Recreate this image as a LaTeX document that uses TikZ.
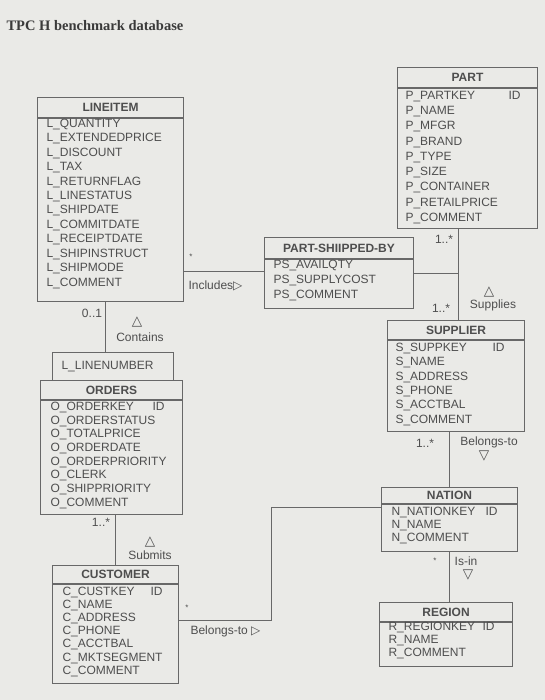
\documentclass[tikz,border=0pt]{standalone}
\usepackage{fontspec}
\setmainfont{Liberation Sans}
\newfontfamily\tpcserif{Liberation Serif}
\newfontfamily\tpcsym{DejaVu Sans}
\definecolor{bgc}{RGB}{234,234,231}
\definecolor{inkc}{RGB}{78,78,78}
\definecolor{headc}{RGB}{58,58,58}
\definecolor{linec}{RGB}{104,104,104}
\begin{document}
\begin{tikzpicture}[x=1pt, y=-1pt, line width=1pt,
  every node/.style={text=inkc, font=\fontsize{12}{14}\selectfont},
  head/.style={draw=linec, anchor=north west, inner sep=0pt, text height=8.6pt, text depth=0pt,
    font=\fontsize{12}{14}\selectfont\bfseries},
  body/.style={draw=linec, anchor=north west, inner sep=0pt},
  row/.style={anchor=west, inner sep=0pt, text height=8.6pt, text depth=0pt},
  lbl/.style={inner sep=0pt, text height=8.6pt, text depth=0pt},
  star/.style={inner sep=0pt, font=\fontsize{8}{9}\selectfont},
  tri/.style={inner sep=0pt, font=\tpcsym\fontsize{13.5}{14}\selectfont},
  link/.style={draw=linec}]
\fill[bgc] (0,0) rectangle (545,700);
\node[anchor=base west, inner sep=0pt, text=headc, font=\tpcserif\bfseries\fontsize{14.5}{17}\selectfont] (title) at (6,31) {TPC H benchmark database};

% LINEITEM
\node[head, minimum width=146pt, minimum height=20pt] (lineitem) at (37,97) {LINEITEM};
\node[body, minimum width=146pt, minimum height=183pt] (lineitem_a) at (lineitem.south west) {};
\foreach \attr [count=\i from 0] in {L\_QUANTITY, L\_EXTENDEDPRICE, L\_DISCOUNT, L\_TAX, L\_RETURNFLAG, L\_LINESTATUS, L\_SHIPDATE, L\_COMMITDATE, L\_RECEIPTDATE, L\_SHIPINSTRUCT, L\_SHIPMODE, L\_COMMENT}
  \node[row] (lineitem_r\i) at (46,123+14.45*\i) {\attr};

% PART
\node[head, minimum width=140pt, minimum height=20pt] (part) at (397,67) {PART};
\node[body, minimum width=140pt, minimum height=140pt] (part_a) at (part.south west) {};
\foreach \attr [count=\i from 0] in {P\_PARTKEY, P\_NAME, P\_MFGR, P\_BRAND, P\_TYPE, P\_SIZE, P\_CONTAINER, P\_RETAILPRICE, P\_COMMENT}
  \node[row] (part_r\i) at (405,95+15.25*\i) {\attr};
\node[row] (part_id) at (508,95) {ID};

% PART-SHIIPPED-BY
\node[head, minimum width=149pt, minimum height=21pt] (ps) at (264,237) {PART-SHIIPPED-BY};
\node[body, minimum width=149pt, minimum height=49pt] (ps_a) at (ps.south west) {};
\foreach \attr [count=\i from 0] in {PS\_AVAILQTY, PS\_SUPPLYCOST, PS\_COMMENT}
  \node[row] (ps_r\i) at (273,264+15*\i) {\attr};

% SUPPLIER
\node[head, minimum width=137pt, minimum height=19pt] (supplier) at (387,320) {SUPPLIER};
\node[body, minimum width=137pt, minimum height=91pt] (supplier_a) at (supplier.south west) {};
\foreach \attr [count=\i from 0] in {S\_SUPPKEY, S\_NAME, S\_ADDRESS, S\_PHONE, S\_ACCTBAL, S\_COMMENT}
  \node[row] (supplier_r\i) at (395,347+14.4*\i) {\attr};
\node[row] (supplier_id) at (492,347) {ID};

% NATION
\node[head, minimum width=136pt, minimum height=16pt] (nation) at (381,487) {NATION};
\node[body, minimum width=136pt, minimum height=47pt] (nation_a) at (nation.south west) {};
\foreach \attr [count=\i from 0] in {N\_NATIONKEY, N\_NAME, N\_COMMENT}
  \node[row] (nation_r\i) at (391,511+13.3*\i) {\attr};
\node[row] (nation_id) at (485,511) {ID};

% REGION
\node[head, minimum width=133pt, minimum height=19pt] (region) at (379,602) {REGION};
\node[body, minimum width=133pt, minimum height=44pt] (region_a) at (region.south west) {};
\foreach \attr [count=\i from 0] in {R\_REGIONKEY, R\_NAME, R\_COMMENT}
  \node[row] (region_r\i) at (388,626+13.3*\i) {\attr};
\node[row] (region_id) at (482,626) {ID};

% L_LINENUMBER + ORDERS
\node[body, minimum width=121pt, minimum height=28pt] (linenum) at (52,352) {};
\node[row] (linenum_r) at (61,365) {L\_LINENUMBER};
\node[head, minimum width=142pt, minimum height=19pt] (orders) at (40,380) {ORDERS};
\node[body, minimum width=142pt, minimum height=114pt] (orders_a) at (orders.south west) {};
\foreach \attr [count=\i from 0] in {O\_ORDERKEY, O\_ORDERSTATUS, O\_TOTALPRICE, O\_ORDERDATE, O\_ORDERPRIORITY, O\_CLERK, O\_SHIPPRIORITY, O\_COMMENT}
  \node[row] (orders_r\i) at (50,406+13.7*\i) {\attr};
\node[row] (orders_id) at (152,406) {ID};

% CUSTOMER
\node[head, minimum width=126pt, minimum height=18pt] (customer) at (52,565) {CUSTOMER};
\node[body, minimum width=126pt, minimum height=99pt] (customer_a) at (customer.south west) {};
\foreach \attr [count=\i from 0] in {C\_CUSTKEY, C\_NAME, C\_ADDRESS, C\_PHONE, C\_ACCTBAL, C\_MKTSEGMENT, C\_COMMENT}
  \node[row] (customer_r\i) at (62,591+13.17*\i) {\attr};
\node[row] (customer_id) at (150,591) {ID};

% connectors
\draw[link] ([yshift=-12pt]ps_a.north west) -- ([yshift=-12pt]ps_a.north west -| lineitem_a.east);
\coordinate (supplies) at ([xshift=-9pt]part_a.south);
\draw[link] (supplies) -- (supplies |- supplier.north);
\draw[link] ([yshift=-14pt]ps_a.north east) -- ([yshift=-14pt]ps_a.north east -| supplies);
\coordinate (contains) at ([xshift=-5pt]lineitem_a.south);
\draw[link] (contains) -- (contains |- linenum.north);
\coordinate (submits) at ([xshift=4pt]orders_a.south);
\draw[link] (submits) -- (submits |- customer.north);
\draw[link] ([yshift=14pt]customer_a.east) -- ++(92,0) |- ([yshift=-3pt]nation_a.north west);
\draw[link] (nation.north) -- (nation.north |- supplier_a.south);
\draw[link] (nation_a.south) -- (nation_a.south |- region.north);

% labels
\node[star] (inc_star) at (191,257) {*};
\node[lbl, anchor=west] (includes) at (188,285) {Includes{\tpcsym▷}};
\node[lbl] (part_mult) at (444,239) {1..*};
\node[lbl] (sup_mult) at (441,308) {1..*};
\node[tri] (supplies_tri) at (489,292) {△};
\node[lbl] (supplies_lbl) at (493,304) {Supplies};
\node[lbl] (contains_mult) at (92,313) {0..1};
\node[tri] (contains_tri) at (137,322) {△};
\node[lbl] (contains_lbl) at (140,337) {Contains};
\node[lbl] (orders_mult) at (101,522) {1..*};
\node[tri] (submits_tri) at (150,542) {△};
\node[lbl] (submits_lbl) at (150,555) {Submits};
\node[lbl] (nat_mult) at (425,443) {1..*};
\node[lbl] (belongs_lbl) at (489,441) {Belongs-to};
\node[tri] (belongs_tri) at (484,456) {▽};
\node[star] (isin_star) at (435,561) {*};
\node[lbl] (isin_lbl) at (466,561) {Is-in};
\node[tri] (isin_tri) at (468,575) {▽};
\node[star] (cust_star) at (187,608) {*};
\node[lbl, anchor=west] (cust_belongs) at (190,630) {Belongs-to {\tpcsym▷}};
\end{tikzpicture}
\end{document}
